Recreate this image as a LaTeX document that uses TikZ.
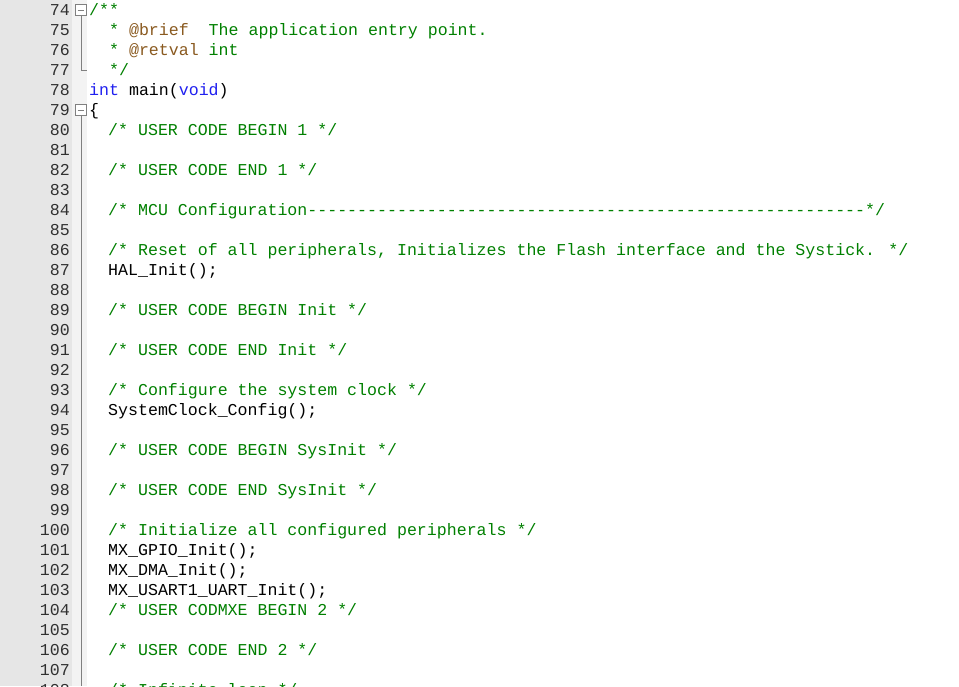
\documentclass[tikz,border=0pt]{standalone}
\usepackage{fontspec}
\newfontfamily\codefont{Liberation Mono}
\definecolor{gutter}{HTML}{E6E6E6}
\definecolor{foldbg}{HTML}{F3F3F3}
\definecolor{lnum}{HTML}{303030}
\definecolor{cmt}{HTML}{008000}
\definecolor{kwd}{HTML}{2020F0}
\definecolor{tag}{HTML}{8A5A20}
\definecolor{foldc}{HTML}{808080}
\newcommand\cmt[1]{\textcolor{cmt}{#1}}
\newcommand\kwd[1]{\textcolor{kwd}{#1}}
\newcommand\tagc[1]{\textcolor{tag}{#1}}
\tikzset{
  codeline/.style={anchor=base west,inner sep=0pt,font=\codefont\fontsize{16.6}{20}\selectfont,text=black},
  numline/.style={anchor=base east,inner sep=0pt,font=\codefont\fontsize{16.6}{20}\selectfont,text=lnum},
  foldbox/.style={draw=foldc,fill=white,minimum size=11pt,inner sep=0pt,line width=0.8pt},
  foldline/.style={draw=foldc,line width=0.8pt}
}
\begin{document}
\begin{tikzpicture}[x=1pt,y=-1pt]
\useasboundingbox (0,0) rectangle (959,686);
\clip (0,0) rectangle (959,686);
\fill[white] (0,0) rectangle (959,686);
\fill[gutter] (0,0) rectangle (72,686);
\fill[foldbg] (72,0) rectangle (87,686);
% line numbers
\foreach \n in {74,...,108}{
  \node[numline] (n\n) at (70,{(\n-74)*20+15}) {\n};
}
% fold markers
\draw[foldline] (81,10) -- (81,70) -- (87,70);
\draw[foldline] (81,110) -- (81,686);
\node[foldbox] (fb74) at (81,10) {};
\draw[foldline] (fb74.west) ++(2.5,0) -- ++(6,0);
\node[foldbox] (fb79) at (81,110) {};
\draw[foldline] (fb79.west) ++(2.5,0) -- ++(6,0);
% code
\def\y#1{{(#1-74)*20+15}}
\node[codeline] (c74) at (89,\y{74}) {\cmt{/**}};
\node[codeline] (c75) at (89,\y{75}) {\ \ \cmt{*} \tagc{@brief}\ \ \cmt{The application entry point.}};
\node[codeline] (c76) at (89,\y{76}) {\ \ \cmt{*} \tagc{@retval} \cmt{int}};
\node[codeline] (c77) at (89,\y{77}) {\ \ \cmt{*/}};
\node[codeline] (c78) at (89,\y{78}) {\kwd{int} main(\kwd{void})};
\node[codeline] (c79) at (89,\y{79}) {\{};
\node[codeline] (c80) at (108,\y{80}) {\cmt{/* USER CODE BEGIN 1 */}};
\node[codeline] (c82) at (108,\y{82}) {\cmt{/* USER CODE END 1 */}};
\node[codeline] (c84) at (108,\y{84}) {\cmt{/* MCU Configuration{-}{-}{-}{-}{-}{-}{-}{-}{-}{-}{-}{-}{-}{-}{-}{-}{-}{-}{-}{-}{-}{-}{-}{-}{-}{-}{-}{-}{-}{-}{-}{-}{-}{-}{-}{-}{-}{-}{-}{-}{-}{-}{-}{-}{-}{-}{-}{-}{-}{-}{-}{-}{-}{-}{-}{-}*/}};
\node[codeline] (c86) at (108,\y{86}) {\cmt{/* Reset of all peripherals, Initializes the Flash interface and the Systick. */}};
\node[codeline] (c87) at (108,\y{87}) {HAL\_Init();};
\node[codeline] (c89) at (108,\y{89}) {\cmt{/* USER CODE BEGIN Init */}};
\node[codeline] (c91) at (108,\y{91}) {\cmt{/* USER CODE END Init */}};
\node[codeline] (c93) at (108,\y{93}) {\cmt{/* Configure the system clock */}};
\node[codeline] (c94) at (108,\y{94}) {SystemClock\_Config();};
\node[codeline] (c96) at (108,\y{96}) {\cmt{/* USER CODE BEGIN SysInit */}};
\node[codeline] (c98) at (108,\y{98}) {\cmt{/* USER CODE END SysInit */}};
\node[codeline] (c100) at (108,\y{100}) {\cmt{/* Initialize all configured peripherals */}};
\node[codeline] (c101) at (108,\y{101}) {MX\_GPIO\_Init();};
\node[codeline] (c102) at (108,\y{102}) {MX\_DMA\_Init();};
\node[codeline] (c103) at (108,\y{103}) {MX\_USART1\_UART\_Init();};
\node[codeline] (c104) at (108,\y{104}) {\cmt{/* USER CODMXE BEGIN 2 */}};
\node[codeline] (c106) at (108,\y{106}) {\cmt{/* USER CODE END 2 */}};
\node[codeline] (c108) at (108,\y{108}) {\cmt{/* Infinite loop */}};
\end{tikzpicture}
\end{document}
